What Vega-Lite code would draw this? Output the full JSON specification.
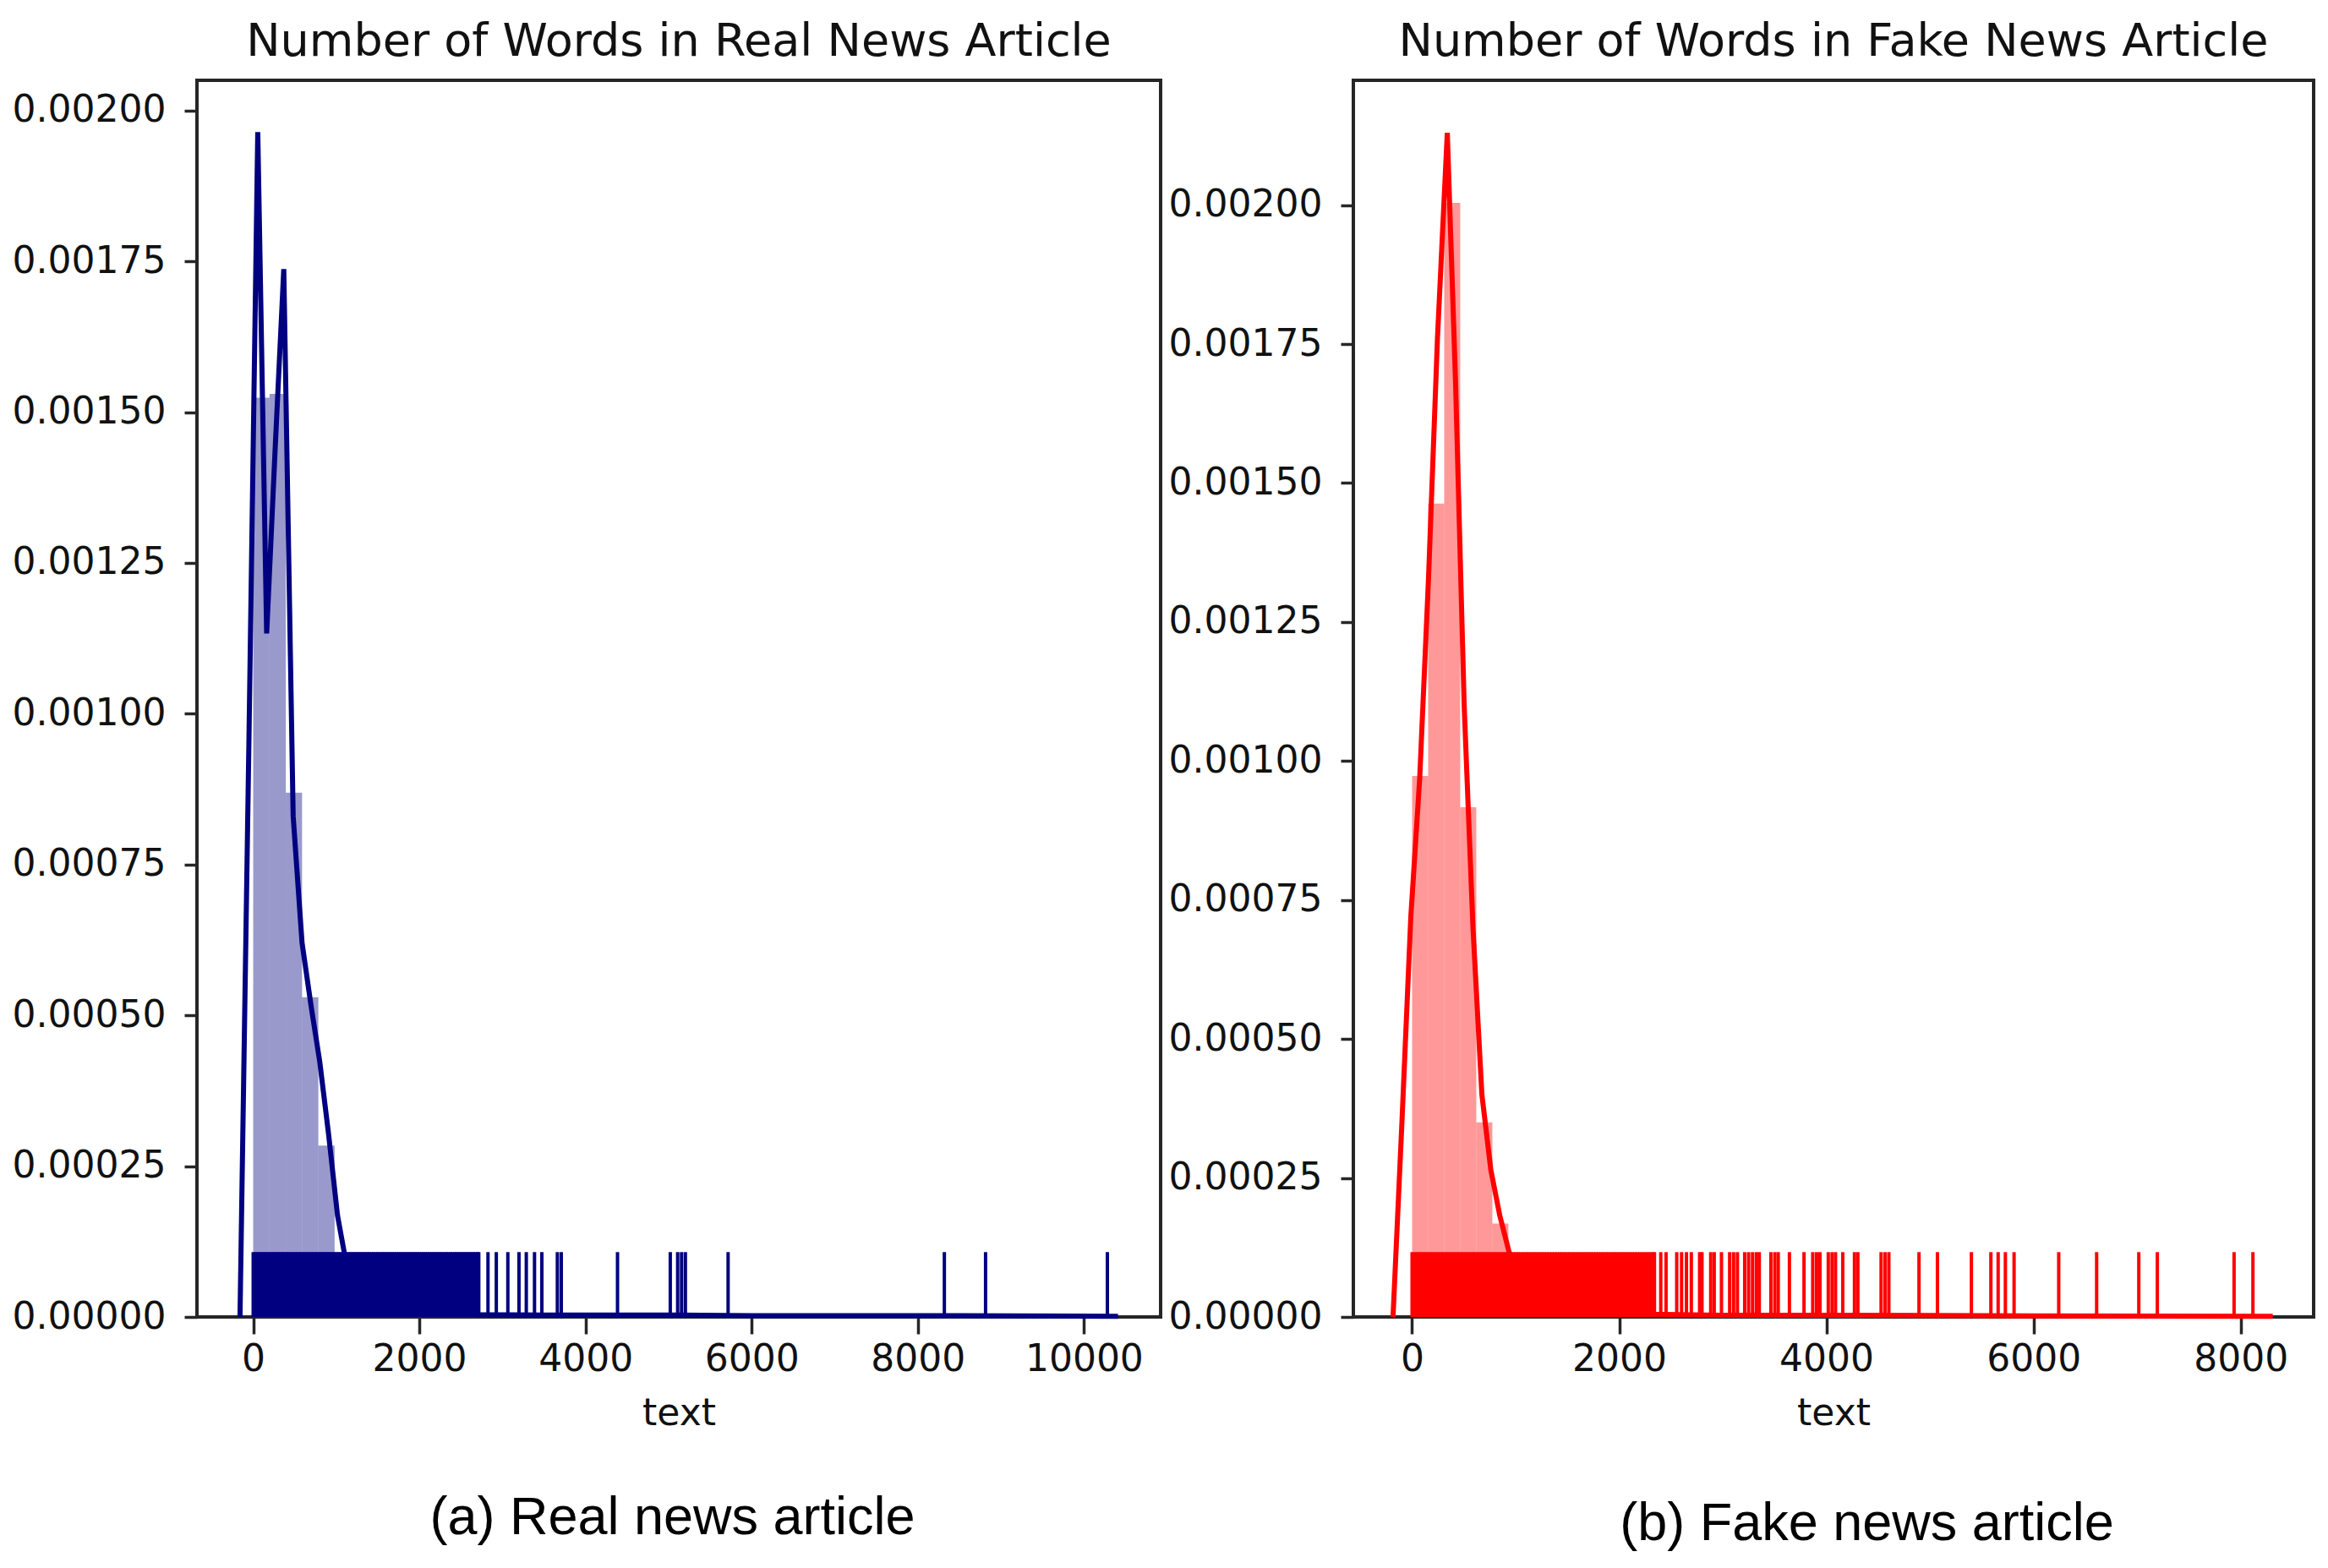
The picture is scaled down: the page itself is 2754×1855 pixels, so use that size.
{
"$schema": "https://vega.github.io/schema/vega-lite/v6.json",
"background": "white",
"padding": {"left": 12, "top": 21, "right": 5, "bottom": 5},
"spacing": 5,
"config": {
  "view": {"stroke": "#262626", "strokeWidth": 4},
  "axis": {"grid": false, "domain": false, "labelFont": "DejaVu Sans", "labelFontSize": 44, "labelLimit": 0, "labelColor": "#111111", "titleFont": "DejaVu Sans", "titleFontSize": 44, "titleFontWeight": "normal", "titleColor": "#111111", "tickColor": "#262626", "tickWidth": 3.5},
  "axisX": {"tickSize": 20, "labelPadding": 8, "titlePadding": 20},
  "axisY": {"tickSize": 15, "labelPadding": 22},
  "title": {"font": "DejaVu Sans", "fontSize": 54, "fontWeight": "normal", "color": "#111111"}
},
"datasets": {
  "real_hist": [
    {"start": 0, "end": 196, "density": 0.001524},
    {"start": 196, "end": 392, "density": 0.00153},
    {"start": 392, "end": 588, "density": 0.000869},
    {"start": 588, "end": 784, "density": 0.00053},
    {"start": 784, "end": 980, "density": 0.000284},
    {"start": 980, "end": 1176, "density": 0.0001},
    {"start": 1176, "end": 1372, "density": 0.00005},
    {"start": 1372, "end": 1568, "density": 0.00003},
    {"start": 1568, "end": 1764, "density": 0.00002}
  ],
  "real_kde": [
    {"x": -159, "density": 0.0},
    {"x": -52, "density": 0.00095},
    {"x": 55, "density": 0.001964},
    {"x": 162, "density": 0.001133},
    {"x": 268, "density": 0.00145},
    {"x": 368, "density": 0.001737},
    {"x": 481, "density": 0.00083},
    {"x": 588, "density": 0.00062},
    {"x": 695, "density": 0.000517},
    {"x": 801, "density": 0.000423},
    {"x": 908, "density": 0.000302},
    {"x": 1015, "density": 0.000168},
    {"x": 1121, "density": 0.000088},
    {"x": 1228, "density": 0.00005},
    {"x": 1335, "density": 0.00003},
    {"x": 1548, "density": 0.000015},
    {"x": 1975, "density": 0.000008},
    {"x": 2700, "density": 0.000004},
    {"x": 3500, "density": 0.000003},
    {"x": 5100, "density": 0.000003},
    {"x": 6000, "density": 0.000002},
    {"x": 8500, "density": 0.000002},
    {"x": 10409, "density": 0.000001}
  ],
  "real_rug": [
    {"x":0},{"x":25},{"x":50},{"x":75},{"x":100},{"x":125},{"x":150},{"x":175},{"x":200},{"x":225},{"x":250},{"x":275},{"x":300},{"x":325},{"x":350},{"x":375},{"x":400},{"x":425},{"x":450},{"x":475},{"x":500},{"x":525},{"x":550},{"x":575},{"x":600},{"x":625},{"x":650},{"x":675},{"x":700},{"x":725},{"x":750},{"x":775},{"x":800},{"x":825},{"x":850},{"x":875},{"x":900},{"x":925},{"x":950},{"x":975},{"x":1000},{"x":1025},{"x":1050},{"x":1075},{"x":1100},{"x":1125},{"x":1150},{"x":1175},{"x":1200},{"x":1225},{"x":1250},{"x":1275},{"x":1300},{"x":1325},{"x":1350},{"x":1375},{"x":1400},{"x":1425},{"x":1450},{"x":1475},{"x":1500},{"x":1525},{"x":1550},{"x":1575},{"x":1600},{"x":1625},{"x":1650},{"x":1675},{"x":1700},{"x":1725},{"x":1750},{"x":1775},{"x":1800},{"x":1825},{"x":1850},{"x":1875},{"x":1900},{"x":1925},{"x":1950},{"x":1975},{"x":2000},{"x":2025},{"x":2050},{"x":2075},{"x":2100},{"x":2125},{"x":2150},{"x":2175},{"x":2200},{"x":2225},{"x":2250},{"x":2275},{"x":2300},{"x":2325},{"x":2350},{"x":2375},{"x":2400},{"x":2425},{"x":2450},{"x":2475},{"x":2500},{"x":2525},{"x":2550},{"x":2575},{"x":2600},{"x":2625},{"x":2650},{"x":2675},{"x":2700},{"x":2715},
    {"x":2826},{"x":2926},{"x":3065},{"x":3199},{"x":3287},{"x":3386},{"x":3474},{"x":3661},{"x":3708},{"x":4385},{"x":5020},{"x":5109},{"x":5156},{"x":5202},{"x":5716},{"x":8319},{"x":8815},{"x":10281}
  ],
  "fake_hist": [
    {"start": 0, "end": 155, "density": 0.000973},
    {"start": 155, "end": 310, "density": 0.001463},
    {"start": 310, "end": 465, "density": 0.002004},
    {"start": 465, "end": 620, "density": 0.000917},
    {"start": 620, "end": 775, "density": 0.00035},
    {"start": 775, "end": 930, "density": 0.000168},
    {"start": 930, "end": 1085, "density": 0.00008},
    {"start": 1085, "end": 1240, "density": 0.00004},
    {"start": 1240, "end": 1395, "density": 0.00002}
  ],
  "fake_kde": [
    {"x": -184, "density": 0.0},
    {"x": -98, "density": 0.00035},
    {"x": -12, "density": 0.00072},
    {"x": 74, "density": 0.00097},
    {"x": 159, "density": 0.00133},
    {"x": 245, "density": 0.00176},
    {"x": 340, "density": 0.00213},
    {"x": 420, "density": 0.00168},
    {"x": 503, "density": 0.0011},
    {"x": 588, "density": 0.0007},
    {"x": 674, "density": 0.0004},
    {"x": 760, "density": 0.000265},
    {"x": 846, "density": 0.000183},
    {"x": 932, "density": 0.00012},
    {"x": 1017, "density": 0.00007},
    {"x": 1103, "density": 0.00004},
    {"x": 1275, "density": 0.00002},
    {"x": 1618, "density": 0.00001},
    {"x": 2304, "density": 0.000005},
    {"x": 3000, "density": 0.000003},
    {"x": 4000, "density": 0.000003},
    {"x": 6000, "density": 0.000002},
    {"x": 8309, "density": 0.000001}
  ],
  "fake_rug": [
    {"x":0},{"x":25},{"x":50},{"x":75},{"x":100},{"x":125},{"x":150},{"x":175},{"x":200},{"x":225},{"x":250},{"x":275},{"x":300},{"x":325},{"x":350},{"x":375},{"x":400},{"x":425},{"x":450},{"x":475},{"x":500},{"x":525},{"x":550},{"x":575},{"x":600},{"x":625},{"x":650},{"x":675},{"x":700},{"x":725},{"x":750},{"x":775},{"x":800},{"x":825},{"x":850},{"x":875},{"x":900},{"x":925},{"x":950},{"x":975},{"x":1000},{"x":1025},{"x":1050},{"x":1075},{"x":1100},{"x":1125},{"x":1150},{"x":1175},{"x":1200},{"x":1225},{"x":1250},{"x":1275},{"x":1300},{"x":1325},{"x":1350},{"x":1375},{"x":1400},{"x":1425},{"x":1450},{"x":1475},{"x":1500},{"x":1525},{"x":1550},{"x":1575},{"x":1600},{"x":1625},{"x":1650},{"x":1675},{"x":1700},{"x":1725},{"x":1750},{"x":1775},{"x":1800},{"x":1825},{"x":1850},{"x":1875},{"x":1900},{"x":1925},{"x":1950},{"x":1975},{"x":2000},{"x":2025},{"x":2050},{"x":2075},{"x":2100},{"x":2125},{"x":2150},{"x":2175},{"x":2200},{"x":2225},{"x":2250},{"x":2275},{"x":2300},{"x":2325},{"x":2340},
    {"x":2401},{"x":2452},{"x":2555},{"x":2602},{"x":2649},{"x":2696},{"x":2776},{"x":2799},{"x":2883},{"x":2917},{"x":2987},{"x":3066},{"x":3104},{"x":3141},{"x":3211},{"x":3249},{"x":3287},{"x":3324},{"x":3352},{"x":3464},{"x":3502},{"x":3535},{"x":3643},{"x":3784},{"x":3868},{"x":3905},{"x":3938},{"x":4018},{"x":4055},{"x":4088},{"x":4158},{"x":4271},{"x":4304},{"x":4528},{"x":4566},{"x":4603},{"x":4894},{"x":5072},{"x":5400},{"x":5588},{"x":5658},{"x":5728},{"x":5812},{"x":6243},{"x":6609},{"x":7016},{"x":7195},{"x":7936},{"x":8118}
  ]
},
"hconcat": [
  {
    "title": {"text": "(a) Real news article", "orient": "bottom", "anchor": "middle", "frame": "bounds", "font": "Liberation Sans", "fontSize": 63, "fontWeight": "normal", "color": "#000000", "baseline": "alphabetic", "offset": 119, "dx": 102},
    "vconcat": [
      {
        "width": 1140,
        "height": 1463,
        "title": {"text": "Number of Words in Real News Article", "anchor": "middle", "frame": "group", "baseline": "alphabetic", "offset": -25},
        "layer": [
          {
            "data": {"name": "real_hist"},
            "mark": {"type": "rect", "color": "#000080", "opacity": 0.4},
            "encoding": {
              "x": {"field": "start", "type": "quantitative", "title": "text", "scale": {"domain": [-677, 10922], "nice": false, "zero": false}, "axis": {"values": [0, 2000, 4000, 6000, 8000, 10000], "format": "d"}},
              "x2": {"field": "end"},
              "y": {"field": "density", "type": "quantitative", "title": null, "scale": {"domain": [0, 0.00205], "nice": false, "zero": false}, "axis": {"values": [0, 0.00025, 0.0005, 0.00075, 0.001, 0.00125, 0.0015, 0.00175, 0.002], "format": ".5f"}},
              "y2": {"datum": 0}
            }
          },
          {
            "data": {"name": "real_kde"},
            "mark": {"type": "line", "color": "#000080", "strokeWidth": 6},
            "encoding": {
              "x": {"field": "x", "type": "quantitative", "title": "text"},
              "y": {"field": "density", "type": "quantitative", "title": null}
            }
          },
          {
            "data": {"name": "real_rug"},
            "mark": {"type": "rule", "color": "#000080", "strokeWidth": 4},
            "encoding": {
              "x": {"field": "x", "type": "quantitative", "title": "text"},
              "y": {"datum": 0},
              "y2": {"datum": 0.0001075}
            }
          }
        ]
      }
    ]
  },
  {
    "title": {"text": "(b) Fake news article", "orient": "bottom", "anchor": "middle", "frame": "bounds", "font": "Liberation Sans", "fontSize": 63, "fontWeight": "normal", "color": "#000000", "baseline": "alphabetic", "offset": 126, "dx": 149},
    "vconcat": [
      {
        "width": 1136,
        "height": 1463,
        "title": {"text": "Number of Words in Fake News Article", "anchor": "middle", "frame": "group", "baseline": "alphabetic", "offset": -25},
        "layer": [
          {
            "data": {"name": "fake_hist"},
            "mark": {"type": "rect", "color": "#ff0000", "opacity": 0.4},
            "encoding": {
              "x": {"field": "start", "type": "quantitative", "title": "text", "scale": {"domain": [-567, 8704], "nice": false, "zero": false}, "axis": {"values": [0, 2000, 4000, 6000, 8000], "format": "d"}},
              "x2": {"field": "end"},
              "y": {"field": "density", "type": "quantitative", "title": null, "scale": {"domain": [0, 0.0022245], "nice": false, "zero": false}, "axis": {"values": [0, 0.00025, 0.0005, 0.00075, 0.001, 0.00125, 0.0015, 0.00175, 0.002], "format": ".5f"}},
              "y2": {"datum": 0}
            }
          },
          {
            "data": {"name": "fake_kde"},
            "mark": {"type": "line", "color": "#ff0000", "strokeWidth": 6},
            "encoding": {
              "x": {"field": "x", "type": "quantitative", "title": "text"},
              "y": {"field": "density", "type": "quantitative", "title": null}
            }
          },
          {
            "data": {"name": "fake_rug"},
            "mark": {"type": "rule", "color": "#ff0000", "strokeWidth": 4},
            "encoding": {
              "x": {"field": "x", "type": "quantitative", "title": "text"},
              "y": {"datum": 0},
              "y2": {"datum": 0.0001166}
            }
          }
        ]
      }
    ]
  }
]
}
